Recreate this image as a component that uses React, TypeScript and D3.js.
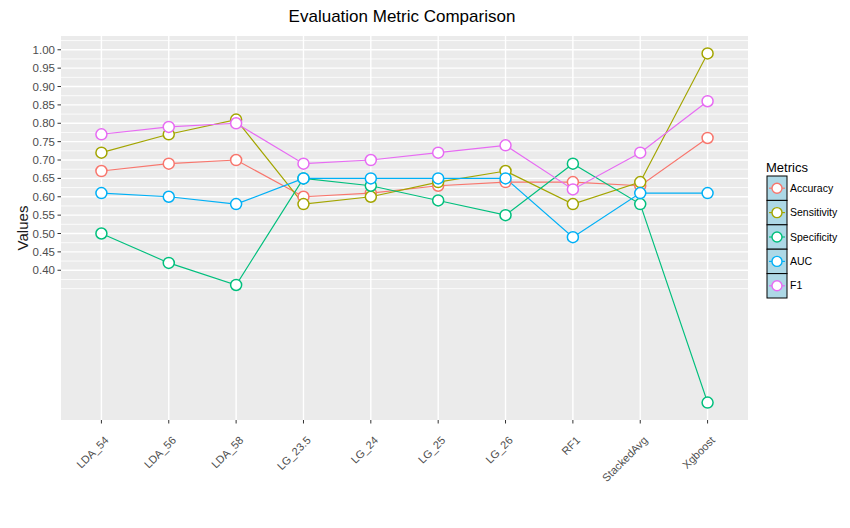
import React from "react";
import * as d3 from "d3";

const categories = [
  "LDA_54",
  "LDA_56",
  "LDA_58",
  "LG_23.5",
  "LG_24",
  "LG_25",
  "LG_26",
  "RF1",
  "StackedAvg",
  "Xgboost",
];

const metrics = ["Accuracy", "Sensitivity", "Specificity", "AUC", "F1"];

const accuracy = [0.67, 0.69, 0.7, 0.6, 0.61, 0.63, 0.64, 0.64, 0.63, 0.76];
const sensitivity = [0.72, 0.77, 0.81, 0.58, 0.6, 0.64, 0.67, 0.58, 0.64, 0.99];
const specificity = [0.5, 0.42, 0.36, 0.65, 0.63, 0.59, 0.55, 0.69, 0.58, 0.04];
const auc = [0.61, 0.6, 0.58, 0.65, 0.65, 0.65, 0.65, 0.49, 0.61, 0.61];
const f1 = [0.77, 0.79, 0.8, 0.69, 0.7, 0.72, 0.74, 0.62, 0.72, 0.86];

const yTicks = [0.4, 0.45, 0.5, 0.55, 0.6, 0.65, 0.7, 0.75, 0.8, 0.85, 0.9, 0.95, 1.0];

const seriesValues = [accuracy, sensitivity, specificity, auc, f1];
const colors = ["#F8766D", "#A3A500", "#00BF7D", "#00B0F6", "#E76BF3"];

const font = "'Liberation Sans', Arial, sans-serif";

// panel bounds
const panel = { left: 61, right: 748, top: 36, bottom: 420 };

/**
 * line chart comparing the evaluation metrics of every model
 */
export default function App() {
  const x = d3
    .scalePoint<string>()
    .domain(categories)
    .range([panel.left, panel.right])
    .padding(0.6);

  // ggplot style 5% expansion of the data range
  const all = seriesValues.flat();
  const lo = d3.min(all) as number;
  const hi = d3.max(all) as number;
  const pad = (hi - lo) * 0.05;
  const y = d3
    .scaleLinear()
    .domain([lo - pad, hi + pad])
    .range([panel.bottom, panel.top]);

  // minor grid lines sit half way between the breaks, one step past each end
  const step = yTicks[1] - yTicks[0];
  const ext = [yTicks[0] - step, ...yTicks, yTicks[yTicks.length - 1] + step];
  const minor = ext
    .slice(1)
    .map((v, i) => (v + ext[i]) / 2)
    .concat(ext)
    .filter((v) => !yTicks.includes(v))
    .filter((v) => v >= y.domain()[0] && v <= y.domain()[1]);

  const line = d3
    .line<number>()
    .x((_, i) => x(categories[i]) as number)
    .y((d) => y(d));

  const legendTop = 176;
  const keyH = 24.4;

  return (
    <svg
      width={850}
      height={528}
      style={{ position: "absolute", left: 0, top: 0, background: "#fff" }}
      fontFamily={font}
    >
      <text x={402} y={22} textAnchor="middle" fontSize={17} fill="#000">
        Evaluation Metric Comparison
      </text>

      <rect
        x={panel.left}
        y={panel.top}
        width={panel.right - panel.left}
        height={panel.bottom - panel.top}
        fill="#EBEBEB"
      />
      {minor.map((v) => (
        <line
          key={"mn" + v}
          x1={panel.left}
          x2={panel.right}
          y1={y(v)}
          y2={y(v)}
          stroke="#fff"
          strokeWidth={0.8}
        />
      ))}
      {yTicks.map((v) => (
        <line
          key={"mj" + v}
          x1={panel.left}
          x2={panel.right}
          y1={y(v)}
          y2={y(v)}
          stroke="#fff"
          strokeWidth={1.4}
        />
      ))}
      {categories.map((c) => (
        <line
          key={"v" + c}
          x1={x(c)}
          x2={x(c)}
          y1={panel.top}
          y2={panel.bottom}
          stroke="#fff"
          strokeWidth={1.4}
        />
      ))}

      {/* y axis */}
      {yTicks.map((v) => (
        <g key={"yt" + v}>
          <line x1={panel.left - 3.5} x2={panel.left} y1={y(v)} y2={y(v)} stroke="#333" />
          <text
            x={panel.left - 6}
            y={y(v)}
            dy="0.35em"
            textAnchor="end"
            fontSize={11.5}
            fill="#4D4D4D"
          >
            {v.toFixed(2)}
          </text>
        </g>
      ))}
      <text
        transform={`translate(28,${(panel.top + panel.bottom) / 2}) rotate(-90)`}
        textAnchor="middle"
        fontSize={15}
        fill="#1a1a1a"
      >
        Values
      </text>

      {/* x axis */}
      {categories.map((c) => (
        <g key={"xt" + c}>
          <line
            x1={x(c)}
            x2={x(c)}
            y1={panel.bottom}
            y2={panel.bottom + 3.5}
            stroke="#333"
          />
          <text
            transform={`translate(${(x(c) as number) + 8},441) rotate(-45)`}
            textAnchor="end"
            fontSize={11}
            fill="#4D4D4D"
          >
            {c}
          </text>
        </g>
      ))}

      {/* lines first, then points like geom_line + geom_point */}
      {seriesValues.map((vals, s) => (
        <path
          key={"l" + s}
          d={line(vals) as string}
          fill="none"
          stroke={colors[s]}
          strokeWidth={1.15}
        />
      ))}
      {seriesValues.map((vals, s) => (
        <g key={"p" + s}>
          {vals.map((v, i) => (
            <circle
              key={i}
              cx={x(categories[i])}
              cy={y(v)}
              r={5.5}
              fill="#fff"
              stroke={colors[s]}
              strokeWidth={1.5}
            />
          ))}
        </g>
      ))}

      {/* legend */}
      <text x={766} y={172} fontSize={13} fill="#000">
        Metrics
      </text>
      {metrics.map((m, i) => {
        const ky = legendTop + i * keyH;
        return (
          <g key={"lg" + m}>
            <rect
              x={767}
              y={ky}
              width={20}
              height={keyH}
              fill="#ADD8E6"
              stroke="#000"
              strokeWidth={1}
            />
            <line
              x1={769}
              x2={785}
              y1={ky + keyH / 2}
              y2={ky + keyH / 2}
              stroke={colors[i]}
              strokeWidth={1.15}
            />
            <circle
              cx={777}
              cy={ky + keyH / 2}
              r={5}
              fill="#fff"
              stroke={colors[i]}
              strokeWidth={1.4}
            />
            <text x={790} y={ky + keyH / 2} dy="0.35em" fontSize={10.5} fill="#000">
              {m}
            </text>
          </g>
        );
      })}
    </svg>
  );
}
